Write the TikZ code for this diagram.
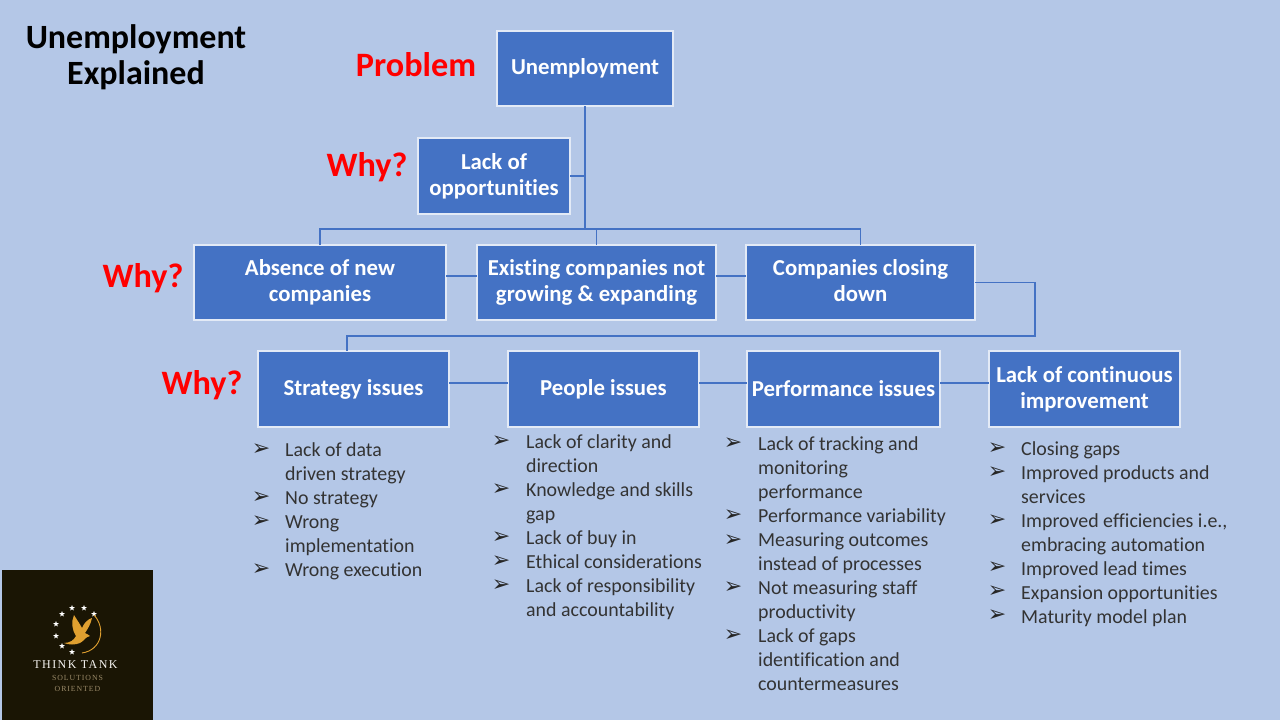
\documentclass[tikz,border=0pt]{standalone}
\usepackage{fontspec}
\setmainfont[Ligatures=NoCommon]{Carlito}
\newfontfamily\arrowfont{DejaVu Sans}
\newfontfamily\logofont[LetterSpace=12]{Liberation Serif}
\usetikzlibrary{shapes.geometric}
\definecolor{pagebg}{HTML}{B4C7E7}
\definecolor{boxblue}{HTML}{4472C4}
\definecolor{logobg}{HTML}{1A1504}
\definecolor{logogold}{HTML}{E0A030}
\definecolor{logotan}{HTML}{9A8A68}
\tikzset{
  blockbox/.style={draw=white!85!boxblue, line width=1.2pt, fill=boxblue, text=white, align=center, inner sep=0pt, outer sep=0pt,
    font=\fontsize{22.8}{26}\selectfont\bfseries},
  link/.style={draw=boxblue, line width=1.2pt},
  whylabel/.style={text=red, inner sep=0pt, font=\fontsize{34.2}{36}\selectfont\bfseries},
  listtext/.style={anchor=north west, align=left, inner sep=0pt, text=black!80, font=\fontsize{19.9}{24}\selectfont, execute at begin node=\strut},
  tip/.style={inner sep=0pt, yshift=-2pt, text=black!85, font=\fontsize{22}{22}\selectfont\arrowfont},
  logostar/.style={star, star points=5, star point ratio=2.4, fill=white, inner sep=0pt, minimum size=6pt}
}
\begin{document}
\begin{tikzpicture}[x=1pt,y=-1pt]
    \useasboundingbox (0,0) rectangle (1280,720);
    \fill[pagebg] (0,0) rectangle (1280,720);

    % Title and question labels
    \node[inner sep=0pt, align=center, font=\fontsize{34}{36}\selectfont\bfseries] (title) at (136,57) {Unemployment\\Explained};
    \node[whylabel] (problem) at (416,65) {Problem};
    \node[whylabel] (whya) at (367,167) {Why?};
    \node[whylabel] (whyb) at (143,278) {Why?};
    \node[whylabel] (whyc) at (202,385) {Why?};

    % Level 0 and 1
    \node[blockbox, minimum width=176pt, minimum height=75pt] (unemp) at (585,68.5) {Unemployment};
    \node[blockbox, minimum width=152pt, minimum height=76pt] (opp) at (494,176) {Lack of\\opportunities};

    % Level 2
    \node[blockbox, minimum width=252pt, minimum height=75pt] (absence) at (320,282.5) {Absence of new\\companies};
    \node[blockbox, minimum width=239pt, minimum height=75pt] (existing) at (596.5,282.5) {Existing companies not\\growing \& expanding};
    \node[blockbox, minimum width=229pt, minimum height=75pt] (closing) at (860.5,282.5) {Companies closing\\down\vphantom{p}};

    % Level 3
    \node[blockbox, minimum width=191pt, minimum height=76pt] (strategy) at (353.5,389) {Strategy issues};
    \node[blockbox, minimum width=191pt, minimum height=76pt] (people) at (603.5,389) {People issues};
    \node[blockbox, minimum width=193pt, minimum height=76pt] (perf) at (843.5,389) {Performance issues};
    \node[blockbox, minimum width=191pt, minimum height=76pt] (improve) at (1084.5,389) {Lack of continuous\\improvement};

    % Connectors
    \coordinate (bus) at (585,229);
    \coordinate (rowtwo) at (0,276);
    \coordinate (rowthree) at (0,383);
    \coordinate (elbow) at (1035,336);
    \coordinate (dropleft) at (347,351);
    \draw[link] (unemp.south) -- (bus);
    \draw[link] (opp.east) -- (opp.east -| bus);
    \draw[link] (absence.north) |- (bus);
    \draw[link] (closing.north) |- (bus);
    \draw[link] (existing.north) -- (existing.north |- bus);
    \draw[link] (absence.east |- rowtwo) -- (existing.west |- rowtwo);
    \draw[link] (existing.east |- rowtwo) -- (closing.west |- rowtwo);
    \draw[link] (closing.east) -| (elbow) -- (elbow -| dropleft) -- (dropleft);
    \draw[link] (strategy.east |- rowthree) -- (people.west |- rowthree);
    \draw[link] (people.east |- rowthree) -- (perf.west |- rowthree);
    \draw[link] (perf.east |- rowthree) -- (improve.west |- rowthree);

    % Strategy list
    \foreach \yy in {448,496,520,568} \node[tip] at (261,\yy) {➢};
    \node[listtext] (lista) at (285,442) {Lack of data\\driven strategy\\No strategy\\Wrong\\implementation\\Wrong execution};

    % People list
    \foreach \yy in {440,488,536,560,584} \node[tip] at (501,\yy) {➢};
    \node[listtext] (listb) at (526,434) {Lack of clarity and\\direction\\Knowledge and skills\\gap\\Lack of buy in\\Ethical considerations\\Lack of responsibility\\and accountability};

    % Performance list
    \foreach \yy in {442,514,539,586,634} \node[tip] at (733,\yy) {➢};
    \node[listtext] (listc) at (758,436) {Lack of tracking and\\monitoring\\performance\\Performance variability\\Measuring outcomes\\instead of processes\\Not measuring staff\\productivity\\Lack of gaps\\identification and\\countermeasures};

    % Improvement list
    \foreach \yy in {447,471,519,566,590,614} \node[tip] at (997,\yy) {➢};
    \node[listtext] (listd) at (1021,441) {Closing gaps\\Improved products and\\services\\Improved efficiencies i.e.,\\embracing automation\\Improved lead times\\Expansion opportunities\\Maturity model plan};

    % Logo
    \fill[logobg] (2,570) rectangle (153,720);
    \foreach \xx/\yy in {72/608,84/608,94/614,62/614,56/624,56/636,62/646,72/652}
        \node[logostar] at (\xx,\yy) {};
    \draw[logogold, line width=0.9pt] (94,615) .. controls (106,628) and (102,650) .. (82,653);
    \fill[logogold] (64,643) .. controls (70,643) and (74,640) .. (76,636)
        .. controls (72,630) and (71,622) .. (74,615)
        .. controls (77,620) and (80,624) .. (82,628)
        .. controls (84,623) and (88,619) .. (92,618)
        .. controls (91,624) and (87,630) .. (85,633)
        .. controls (87,634) and (89,635) .. (90,636)
        .. controls (85,637) and (84,641) .. (80,643)
        .. controls (75,645) and (69,645) .. (64,643) -- cycle;
    \node[inner sep=0pt, text=white!90!logotan, font=\fontsize{12}{12}\selectfont\logofont] (logoa) at (75.5,665) {THINK TANK};
    \node[inner sep=0pt, text=logotan, font=\fontsize{7.8}{7.8}\selectfont\logofont] (logob) at (77.5,678) {SOLUTIONS};
    \node[inner sep=0pt, text=logotan, font=\fontsize{7.8}{7.8}\selectfont\logofont] (logoc) at (77.5,689) {ORIENTED};
\end{tikzpicture}
\end{document}
